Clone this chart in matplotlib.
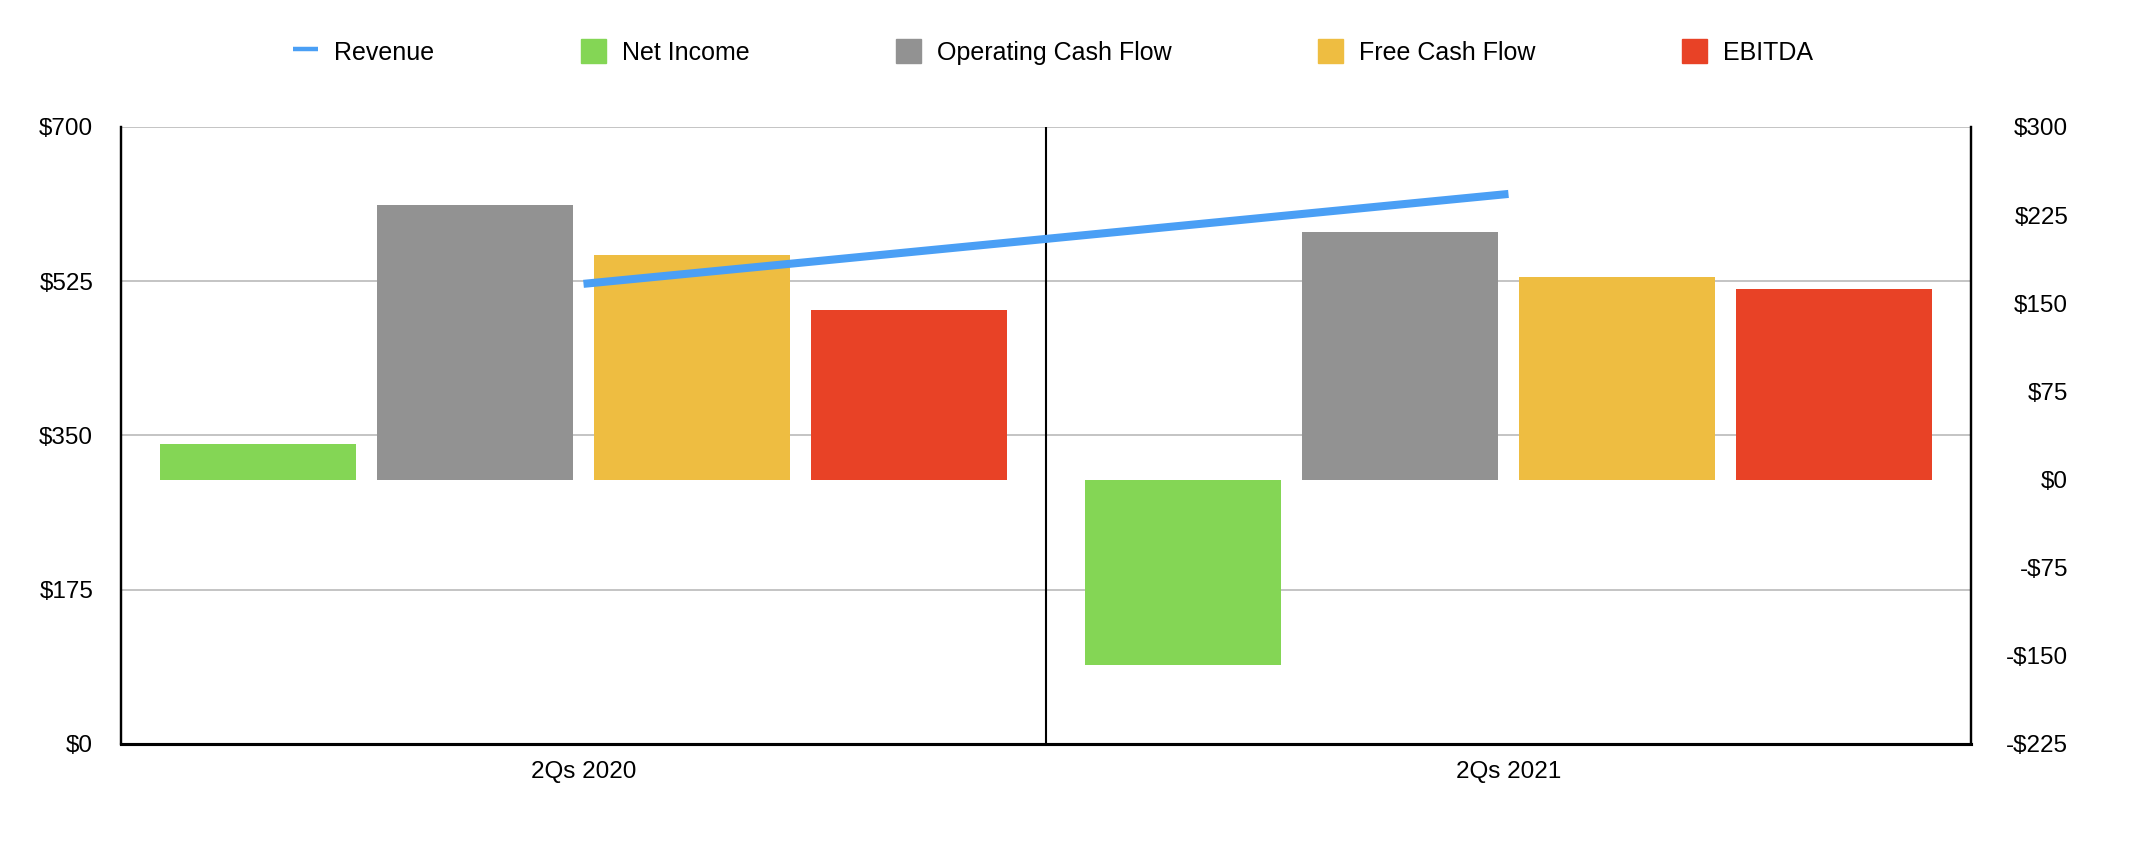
import numpy as np
import matplotlib
matplotlib.use("Agg")
import matplotlib.pyplot as plt
from matplotlib.lines import Line2D
from matplotlib.patches import Patch

plt.rcParams["font.family"] = ["Liberation Sans", "DejaVu Sans"]

# data (in $ millions)
periods = ["2Qs 2020", "2Qs 2021"]
revenue = [522, 624]                 # left axis
net_income = [30, -158]              # right axis
operating_cf = [234, 211]
free_cf = [191, 172]
ebitda = [144, 162]

left_ticks = [0, 175, 350, 525, 700]
right_ticks = [-225, -150, -75, 0, 75, 150, 225, 300]

C_REV = "#4a9ff5"
C_NI = "#84d655"
C_OCF = "#929292"
C_FCF = "#eebd41"
C_EB = "#e84226"
FS = 17.5

fig = plt.figure(figsize=(21.34, 8.52), dpi=100)
ax = fig.add_axes([0.0567, 0.1268, 0.8669, 0.7242])
ax.set_ylim(0, 700)
ax.set_xlim(-0.5, 1.5)
ax.set_yticks(left_ticks)
ax.set_yticklabels([f"${v}" for v in left_ticks])
ax.yaxis.grid(True, color="#c4c4c4", lw=1.4)
ax.set_axisbelow(True)
ax.tick_params(axis="y", length=0, pad=20, labelsize=FS)
ax.set_xticks([0, 1])
ax.set_xticklabels(periods)
ax.tick_params(axis="x", length=0, pad=12, labelsize=FS)

ax2 = ax.twinx()
ax2.set_ylim(-225, 300)
ax2.set_yticks(right_ticks)
ax2.set_yticklabels([f"-${-v}" if v < 0 else f"${v}" for v in right_ticks])
for lab in ax2.get_yticklabels():
    lab.set_horizontalalignment("right")
ax2.tick_params(axis="y", length=0, pad=70, labelsize=FS)

for a in (ax, ax2):
    a.spines["top"].set_visible(False)
    a.spines["left"].set_linewidth(1.6)
    a.spines["right"].set_linewidth(1.6)
    a.spines["bottom"].set_linewidth(2.2)

x = np.arange(len(periods))
step = 0.2346
w = 0.2127
series = [(net_income, C_NI), (operating_cf, C_OCF), (free_cf, C_FCF), (ebitda, C_EB)]
for i, (vals, col) in enumerate(series):
    ax2.bar(x + (i - 1.5) * step, vals, width=w, color=col, zorder=2)

ax2.axvline(0.5, color="black", lw=1.5, zorder=1)

# revenue line drawn on top axes but in left-axis data coordinates
ax2.plot(x, revenue, color=C_REV, lw=5.8, solid_capstyle="butt",
         transform=ax.transData, zorder=4)

handles = [
    Line2D([0], [0], color=C_REV, lw=3.2, solid_capstyle="butt"),
    Patch(color=C_NI), Patch(color=C_OCF), Patch(color=C_FCF), Patch(color=C_EB),
]
labels = ["Revenue", "Net Income", "Operating Cash Flow", "Free Cash Flow", "EBITDA"]
fig.legend(handles, labels, loc="center", bbox_to_anchor=(0.4935, 0.939), ncol=5,
           frameon=False, fontsize=FS + 0.5, handlelength=1.0, handleheight=1.05,
           handletextpad=0.65, columnspacing=5.85)

fig.savefig("out.png", dpi=100)
